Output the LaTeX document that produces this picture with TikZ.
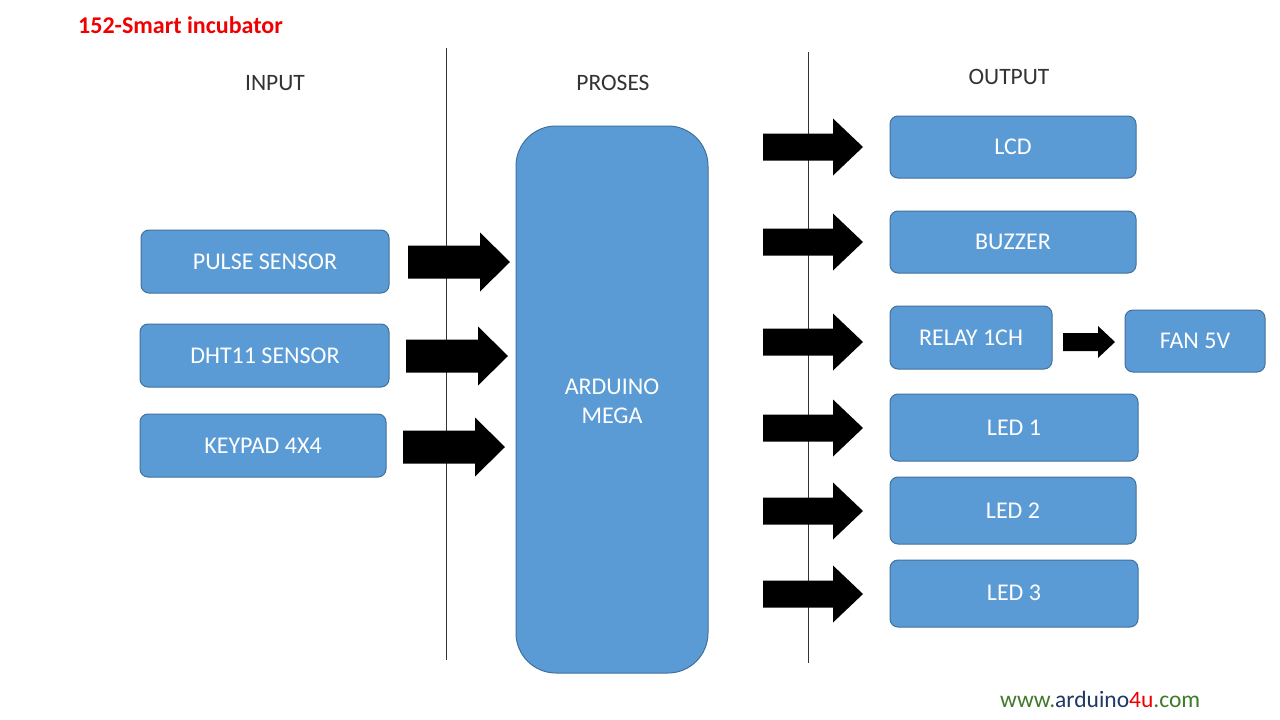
\documentclass[tikz,border=0pt]{standalone}
\usepackage{fontspec}
\setmainfont{Carlito}
\definecolor{boxfill}{HTML}{5B9BD5}
\definecolor{boxline}{HTML}{41719C}
\definecolor{webgreen}{HTML}{3E7A2A}
\definecolor{webblue}{HTML}{1F3864}
\definecolor{titlered}{HTML}{F00000}
\newcommand{\barrow}[6]{% x, y, length, body, head, headlen
  \fill[black] (#1,#2-#4/2) -- (#1+#3-#6,#2-#4/2) -- (#1+#3-#6,#2-#5/2) -- (#1+#3,#2)
   -- (#1+#3-#6,#2+#5/2) -- (#1+#3-#6,#2+#4/2) -- (#1,#2+#4/2) -- cycle;}
\begin{document}
\begin{tikzpicture}[x=1pt,y=-1pt,
  blk/.style={draw=boxline,line width=1pt,fill=boxfill,rounded corners=8pt},
  btxt/.style={text=white,font=\fontsize{24}{28}\selectfont,align=center},
  hdr/.style={text=black!80,font=\fontsize{23.5}{28}\selectfont},
  sep/.style={draw=black!80,line width=0.8pt}]
\useasboundingbox (0,0) rectangle (1280,720);
\fill[white] (0,0) rectangle (1280,720);
\node[anchor=west,text=titlered,font=\bfseries\fontsize{24}{28}\selectfont,inner sep=0pt] (title) at (78,25) {152-Smart incubator};
\node[hdr] (hin) at (275,83) {INPUT};
\node[hdr] (hpr) at (613,83) {PROSES};
\node[hdr] (hout) at (1009,77) {OUTPUT};
\coordinate (l1a) at (446,48); \coordinate (l1b) at (446,660);
\coordinate (l2a) at (808,52); \coordinate (l2b) at (808,663);
\draw[sep] (l1a) -- (l1b);
\draw[sep] (l2a) -- (l2b);
% arduino
\draw[draw=boxline,line width=1pt,fill=boxfill,rounded corners=40pt] (516,126) rectangle (708,673);
\node[btxt,font=\fontsize{24}{29}\selectfont] (ard) at (612,401) {ARDUINO\\MEGA};
% input boxes
\draw[blk] (141,230) rectangle (389,293); \node[btxt] (pulse) at (265,262) {PULSE SENSOR};
\draw[blk] (140,324) rectangle (389,387); \node[btxt] (dht) at (265,356) {DHT11 SENSOR};
\draw[blk] (140,414) rectangle (386,477); \node[btxt] (key) at (263,446) {KEYPAD 4X4};
% input arrows
\barrow{408}{262}{102}{33}{59}{30}
\barrow{406}{356}{102}{33}{59}{30}
\barrow{403}{447}{102}{33}{59}{30}
% output boxes
\draw[blk] (890,116) rectangle (1136,178); \node[btxt] (lcd) at (1013,147) {LCD};
\draw[blk] (890,211) rectangle (1136,273); \node[btxt] (buz) at (1013,242) {BUZZER};
\draw[blk] (890,306) rectangle (1052,369); \node[btxt] (relay) at (971,338) {RELAY 1CH};
\draw[blk] (1125,310) rectangle (1265,372); \node[btxt] (fan) at (1195,341) {FAN 5V};
\draw[blk] (890,394) rectangle (1138,461); \node[btxt] (led1) at (1014,428) {LED 1};
\draw[blk] (890,477) rectangle (1136,544); \node[btxt] (led2) at (1013,511) {LED 2};
\draw[blk] (890,560) rectangle (1138,627); \node[btxt] (led3) at (1014,593) {LED 3};
% output arrows
\barrow{763}{147}{100}{27}{57}{30}
\barrow{763}{242}{100}{27}{57}{30}
\barrow{763}{342}{100}{27}{57}{30}
\barrow{763}{428}{100}{27}{57}{30}
\barrow{763}{511}{100}{27}{57}{30}
\barrow{763}{594}{100}{27}{57}{30}
\barrow{1063}{342}{52}{18}{32}{17}
% footer
\node[anchor=west,font=\fontsize{23.5}{28}\selectfont,inner sep=0pt] (web) at (1000,699)
 {\textcolor{webgreen}{www.}\textcolor{webblue}{arduino}\textcolor{titlered}{4u}\textcolor{webgreen}{.com}};
\end{tikzpicture}
\end{document}
